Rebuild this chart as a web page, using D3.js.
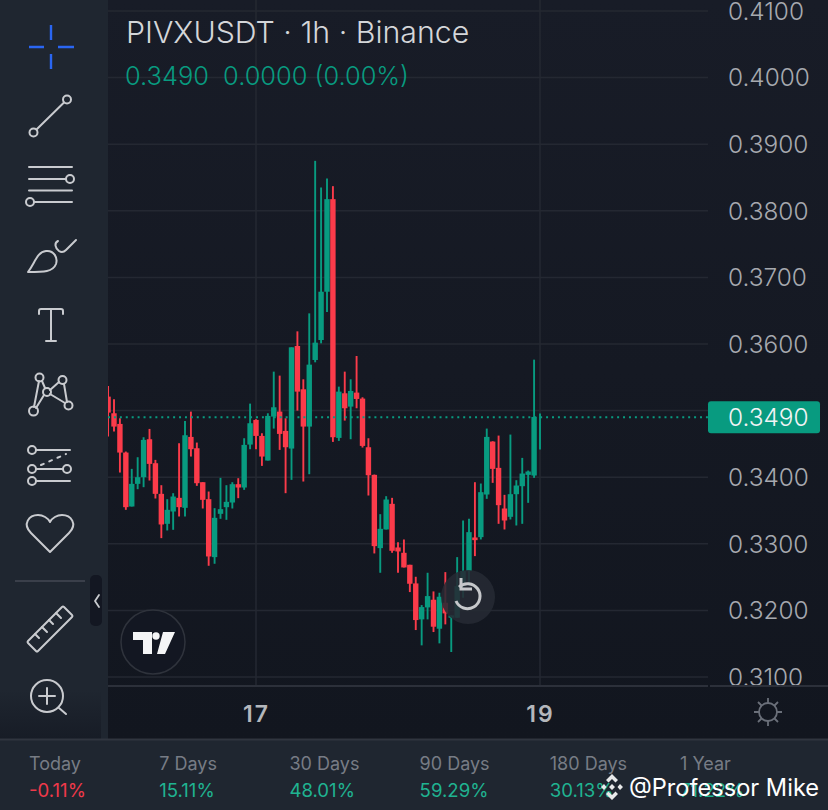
<!DOCTYPE html>
<html>
<head>
<meta charset="utf-8">
<script src="https://cdn.jsdelivr.net/npm/d3@7"></script>
<style>
    html, body { margin: 0; padding: 0; background: #131722; overflow: hidden; }
    svg { display: block; }
    text { font-family: "Inter", "Roboto", sans-serif; }
</style>
</head>
<body>
<svg width="828" height="810"></svg>
<script>
// hours from the "17" day line
var candleHours = [-25, -24, -23, -22, -21, -20, -19, -18, -17, -16, -15, -14, -13, -12, -11, -10, -9, -8, -7, -6, -5, -4, -3, -2, -1,
    0, 1, 2, 3, 4, 5, 6, 7, 8, 9, 10, 11, 12, 13, 14, 15, 16, 17, 18, 19, 20, 21, 22, 23, 24,
    25, 26, 27, 28, 29, 30, 31, 32, 33, 34, 35, 36, 37, 38, 39, 40, 41, 42, 43, 44, 45, 46, 47, 48];
var candleOpen = [.3521, .3496, .3480, .3437, .3356, .3390, .3400, .3457, .3421, .3375, .3330, .33485, .3369, .3354, .34605, .34435, .33925, .3367, .3280, .3345, .3355, .3362, .33895, .33845, .3449,
    .3486, .3462, .3425, .3491, .34985, .34695, .3443, .3597, .3532, .3476, .3576, .3606, .36785, .38175, .3459, .3526, .3506, .3527, .3518, .3445, .34035, .32935, .33215, .3360, .32945,
    .32865, .32685, .32405, .31865, .32045, .3216, .31725, .32115, .3189, .3189, .32365, .3259, .33095, .3310, .3374, .34535, .3414, .3353, .33405, .33745, .33865, .34035, .34025, .3490];
var candleClose = [.3497, .3476, .3437, .3355, .3390, .3400, .3456, .3420, .3375, .3329, .3351, .3371, .3355, .3463, .3442, .3391, .3366, .3281, .3339, .3352, .3363, .33895, .33845, .34485, .3481,
    .3462, .3431, .3492, .3505, .3465, .3445, .3595, .35285, .3476, .3569, .3602, .36785, .38175, .3460, .35285, .35035, .35295, .35175, .3447, .3403, .32965, .33225, .33665, .32895, .32885,
    .32645, .3240, .31855, .3205, .32215, .31755, .32205, .31955, .31925, .32365, .3259, .33175, .33055, .33775, .34605, .34125, .3358, .3335, .33745, .33875, .34055, .34085, .34905, .3490];
var candleHigh = [.3537, .3517, .34885, .34385, .34125, .3430, .3460, .34725, .3426, .3388, .3367, .3376, .3451, .34845, .34985, .3452, .33925, .33785, .33535, .3399, .3388, .33925, .33985, .34585, .35105,
    .3487, .3466, .3496, .35585, .35525, .34885, .3595, .3619, .3547, .3646, .3875, .3835, .38485, .3837, .3536, .35585, .3547, .3582, .3520, .34585, .3404, .33445, .33715, .3369, .33025,
    .33065, .32685, .32505, .3208, .32565, .32285, .32265, .32575, .31925, .3280, .3335, .33375, .33925, .33905, .3473, .3454, .34625, .33735, .3464, .33955, .3429, .3410, .35765, .34955];
var candleLow = [.3461, .34685, .3407, .3351, .3356, .3382, .3385, .3395, .3368, .33085, .3320, .3321, .3341, .3341, .3431, .3387, .3353, .3267, .3270, .33375, .3336, .3353, .33685, .3381, .3442,
    .3442, .3417, .3425, .3473, .3441, .3376, .3396, .3500, .33935, .34045, .35725, .3601, .3648, .3453, .34545, .3485, .3457, .35035, .34445, .33725, .32855, .32565, .33215, .32865, .32565,
    .32645, .32275, .31705, .31475, .31865, .31675, .31505, .3179, .31375, .3189, .3219, .32365, .32815, .33065, .33675, .33915, .3330, .33215, .33365, .33275, .3330, .33615, .3399, .34415];

var lastPrice = 0.349;
var priceTicks = [0.41, 0.40, 0.39, 0.38, 0.37, 0.36, 0.35, 0.34, 0.33, 0.32, 0.31];
// 0.3500 sits under the price tag in the picture
var priceLabels = [0.41, 0.40, 0.39, 0.38, 0.37, 0.36, 0.34, 0.33, 0.32, 0.31];
var dayTicks = [0, 48];
var dayLabels = ["17", "19"];

var statNames = ["Today", "7 Days", "30 Days", "90 Days", "180 Days", "1 Year"];
var statValues = ["-0.11%", "15.11%", "48.01%", "59.29%", "30.13%", "71.22%"];

var cfg = {
    chart: { left: 108, right: 708, top: 0, bottom: 686 },
    bg: "#131722",
    panel: "#1f2630",
    grid: "#242832",
    up: "#089b80",
    down: "#fb3b4a",
    icon: "#c9cbcf",
    axisText: "#a6a9af"
};

var svg = d3.select("svg");

var x = d3.scaleLinear().domain([0, 48]).range([256, 540]);
var y = d3.scaleLinear().domain([0.31, 0.41]).range([677, 11]);

var drawBackground = function () {
    var bgFade = svg.append("linearGradient").attr("id", "bg-fade")
        .attr("x1", "0%").attr("y1", "0%").attr("x2", "0%").attr("y2", "100%");
    bgFade.append("stop").attr("offset", "0%").attr("stop-color", "#181c27");
    bgFade.append("stop").attr("offset", "100%").attr("stop-color", "#12161f");
    svg.append("rect").attr("width", 828).attr("height", 740).attr("fill", "url(#bg-fade)");
    svg.append("rect").attr("width", 108).attr("height", 740).attr("fill", cfg.panel);
    svg.append("rect").attr("y", 740).attr("width", 828).attr("height", 70).attr("fill", cfg.panel);
    var fade = svg.append("linearGradient").attr("id", "side-fade")
        .attr("x1", "0%").attr("y1", "0%").attr("x2", "0%").attr("y2", "100%");
    fade.append("stop").attr("offset", "0%").attr("stop-color", cfg.panel);
    fade.append("stop").attr("offset", "100%").attr("stop-color", "#171c26");
    svg.append("rect").attr("y", 690).attr("width", 101).attr("height", 49).attr("fill", "url(#side-fade)");
    svg.append("line").attr("x1", 0).attr("x2", 828).attr("y1", 739.5).attr("y2", 739.5)
        .attr("stroke", "#30353f").attr("stroke-width", 2);
};

var drawGrid = function () {
    var g = svg.append("g");
    g.selectAll(".h").data(priceTicks).enter().append("line")
        .attr("x1", cfg.chart.left).attr("x2", cfg.chart.right)
        .attr("y1", function (d) { return y(d); })
        .attr("y2", function (d) { return y(d); })
        .attr("stroke", cfg.grid).attr("stroke-width", 1.5);
    g.selectAll(".v").data(dayTicks).enter().append("line")
        .attr("x1", function (d) { return x(d); })
        .attr("x2", function (d) { return x(d); })
        .attr("y1", 0).attr("y2", cfg.chart.bottom)
        .attr("stroke", cfg.grid).attr("stroke-width", 1.5);
};

var drawCandles = function () {
    svg.append("clipPath").attr("id", "plot-clip").append("rect")
        .attr("x", cfg.chart.left).attr("y", 0)
        .attr("width", cfg.chart.right - cfg.chart.left).attr("height", cfg.chart.bottom);

    var g = svg.append("g").attr("clip-path", "url(#plot-clip)");
    var color = function (i) {
        return candleClose[i] >= candleOpen[i] ? cfg.up : cfg.down;
    };

    var candles = g.selectAll("g.candle").data(candleHours).enter().append("g").attr("class", "candle");
    candles.append("line")
        .attr("x1", function (d) { return x(d); })
        .attr("x2", function (d) { return x(d); })
        .attr("y1", function (d, i) { return y(candleHigh[i]); })
        .attr("y2", function (d, i) { return y(candleLow[i]); })
        .attr("stroke", function (d, i) { return color(i); })
        .attr("stroke-width", 1.9);
    candles.append("rect")
        .attr("x", function (d) { return x(d) - 2.7; })
        .attr("width", 5.4)
        .attr("y", function (d, i) { return y(Math.max(candleOpen[i], candleClose[i])); })
        .attr("height", function (d, i) {
            return Math.abs(y(candleOpen[i]) - y(candleClose[i]));
        })
        .attr("fill", function (d, i) { return color(i); });

    // last price line
    svg.append("line")
        .attr("x1", cfg.chart.left).attr("x2", cfg.chart.right)
        .attr("y1", y(lastPrice)).attr("y2", y(lastPrice))
        .attr("stroke", cfg.up).attr("stroke-width", 2)
        .attr("stroke-dasharray", "2 3.92");
};

var drawAxes = function () {
    var yAxis = d3.axisRight(y).tickValues(priceLabels).tickSize(0).tickFormat(d3.format(".4f"));
    var yg = svg.append("g").attr("transform", "translate(728,0)").call(yAxis);
    yg.select(".domain").remove();
    yg.selectAll("text").attr("x", 0).attr("dy", "0.34em")
        .attr("fill", cfg.axisText).attr("font-size", 24.4).attr("font-weight", 300)
        .attr("font-family", "Inter, Roboto, sans-serif");

    // axis line runs over the lowest label, with a gap at the price scale
    svg.append("path").attr("d", "M108 686H708M710 686H828")
        .attr("stroke", "#2c303a").attr("stroke-width", 1.8);

    var xAxis = d3.axisBottom(x).tickValues(dayTicks).tickSize(0).tickFormat(function (d, i) {
        return dayLabels[i];
    });
    var xg = svg.append("g").attr("transform", "translate(0,705)").call(xAxis);
    xg.select(".domain").remove();
    xg.selectAll("text").attr("y", 0).attr("dy", "0.72em")
        .attr("fill", "#b4b7bc").attr("font-size", 23).attr("font-weight", 600).attr("letter-spacing", 2)
        .attr("font-family", "Inter, Roboto, sans-serif");

    // price tag
    svg.append("rect").attr("x", 708).attr("y", y(lastPrice) - 16)
        .attr("width", 112).attr("height", 32).attr("rx", 3).attr("fill", cfg.up);
    svg.append("text").attr("x", 728).attr("y", y(lastPrice)).attr("dy", "0.36em")
        .attr("fill", "#f2f4f5").attr("font-size", 24.4).attr("font-weight", 300)
        .text(d3.format(".4f")(lastPrice));
};

var drawHeader = function () {
    svg.append("text").attr("x", 126).attr("y", 43).attr("fill", "#d4d6d9")
        .attr("font-size", 30.3).attr("font-weight", 300).text("PIVXUSDT · 1h · Binance");
    svg.append("text").attr("x", 125).attr("y", 85).attr("fill", cfg.up)
        .attr("font-size", 25.4).attr("font-weight", 300).attr("xml:space", "preserve")
        .text("0.3490  0.0000 (0.00%)");
};

var stroke = function (sel) {
    return sel.attr("fill", "none").attr("stroke", cfg.icon).attr("stroke-width", 2)
        .attr("stroke-linecap", "round").attr("stroke-linejoin", "round");
};

var drawIcons = function () {
    var g = svg.append("g");
    var path = function (d) { return stroke(g.append("path").attr("d", d)); };
    var dot = function (cx, cy, r) {
        return stroke(g.append("circle").attr("cx", cx).attr("cy", cy).attr("r", r || 4));
    };

    // crosshair
    g.append("path").attr("d", "M51 25V40M51 54V69M29 47H44M58 47H74")
        .attr("stroke", "#2a66f2").attr("stroke-width", 2.4).attr("fill", "none");
    // trend line
    path("M36.5 129.5L64 102.5"); dot(33.5, 132.5); dot(67, 99.5);
    // fib lines
    path("M29 167H72M29 179H66M29 190.5H72M34 202H72"); dot(70, 179); dot(30, 202);
    // brush
    path("M28 272C35 263 37 252 46 251C54 250 58 258 56 264C53 272 44 272 28 272Z");
    path("M58 241C54 243 55 248 59 251C62 253 64 252 66 250L76 240");
    // text
    path("M39 314V311Q39 309 41 309H61Q63 309 63 311V314M51 309V341M46 341H56");
    // pattern
    path("M34 407L39 381M42 381L45 388M50 390L59 382M64 384L67 402M36 408L44 395M50 394L65 403");
    dot(39.5, 377.5); dot(62.5, 380); dot(47, 392); dot(68.5, 405.5); dot(33.5, 411, 4.5);
    // prediction
    path("M36 450H70M36 469H63M36 481H70"); dot(32, 450); dot(32, 469); dot(67, 469); dot(32, 481);
    path("M41 465L66 454").attr("stroke-dasharray", "3 6");
    // heart
    path("M50 552L31 533C22 524 29 515 38 515C43 515 48 518 50 522C52 518 57 515 62 515C71 515 78 524 69 533Z");
    // separator
    g.append("line").attr("x1", 15).attr("x2", 85).attr("y1", 581).attr("y2", 581)
        .attr("stroke", "#444953").attr("stroke-width", 1.5);
    // ruler
    path("M28 641L62 607Q63 606 64 607L72 615Q73 616 72 617L38 651Q37 652 36 651L28 643Q27 642 28 641Z");
    path("M35 634L39 638M42 627L47 632M49 620L53 624M56 613L61 618");
    // zoom
    path("M47 688V704M39 696H55");
    dot(47, 696, 16); path("M59 708L66 714");
    // collapse tab
    g.append("rect").attr("x", 90).attr("y", 575).attr("width", 12).attr("height", 51).attr("rx", 5).attr("fill", cfg.bg);
    path("M99 595L95 601L99 607").attr("stroke-width", 1.8);
    // right gear
    var gear = svg.append("g").attr("transform", "translate(768,712)");
    gear.append("circle").attr("r", 9).attr("fill", "none").attr("stroke", "#6a6f79").attr("stroke-width", 1.8);
    gear.append("path").attr("d", "M0 -14V-9M0 14V9M-14 0H-9M14 0H9M-10 -10L-6.5 -6.5M10 -10L6.5 -6.5M-10 10L-6.5 6.5M10 10L6.5 6.5")
        .attr("stroke", "#6a6f79").attr("stroke-width", 1.8);
};

var drawLogo = function () {
    var g = svg.append("g");
    g.append("circle").attr("cx", 153).attr("cy", 642).attr("r", 32)
        .attr("fill", cfg.bg).attr("stroke", "#2f333c").attr("stroke-width", 1.5);
    g.append("path").attr("fill", "#f4f5f6")
        .attr("d", "M133 632H152V654H143V640H133ZM163 632H175L165 654H157Z");
    g.append("circle").attr("cx", 156).attr("cy", 636).attr("r", 3.7).attr("fill", "#f4f5f6");
};

var drawReset = function () {
    var g = svg.append("g");
    g.append("circle").attr("cx", 468).attr("cy", 597).attr("r", 27)
        .attr("fill", "#262a33").attr("fill-opacity", 0.88);
    g.append("path").attr("d", "M459 587A12.5 12.5 0 1 1 456 601")
        .attr("fill", "none").attr("stroke", "#c6c8cb").attr("stroke-width", 3);
    g.append("path").attr("d", "M461 578V589H472")
        .attr("fill", "none").attr("stroke", "#c6c8cb").attr("stroke-width", 3);
};

var drawStats = function () {
    var col = d3.scalePoint().domain(statNames).range([29, 680]);
    var g = svg.append("g");
    g.selectAll("text.name").data(statNames).enter().append("text")
        .attr("class", "name")
        .attr("x", function (d) { return col(d); })
        .attr("y", 770).attr("font-size", 18).attr("fill", "#777c85")
        .text(function (d) { return d; });
    g.selectAll("text.val").data(statValues).enter().append("text")
        .attr("class", "val")
        .attr("x", function (d, i) { return col(statNames[i]); })
        .attr("y", 797).attr("font-size", 18.6)
        .attr("fill", function (d) { return d.charAt(0) === "-" ? "#f0394a" : "#1fb391"; })
        .text(function (d) { return d; });
};

var drawWatermark = function () {
    var g = svg.append("g").attr("transform", "translate(612,787)").attr("fill", "#e8e9ea");
    g.append("path").attr("d", "M0 -13L6 -7L3.5 -4.5L0 -8L-3.5 -4.5L-6 -7ZM-8 -3L-5.5 0L-8 3L-11 0ZM8 -3L11 0L8 3L5.5 0ZM0 -3L3 0L0 3L-3 0ZM0 13L6 7L3.5 4.5L0 8L-3.5 4.5L-6 7Z");
    svg.append("text").attr("x", 629).attr("y", 796).attr("font-size", 23.6)
        .attr("fill", "#ffffff").text("@Professor Mike");
};

drawBackground();
drawGrid();
drawCandles();
drawAxes();
drawHeader();
drawIcons();
drawLogo();
drawReset();
drawStats();
drawWatermark();
</script>
</body>
</html>
